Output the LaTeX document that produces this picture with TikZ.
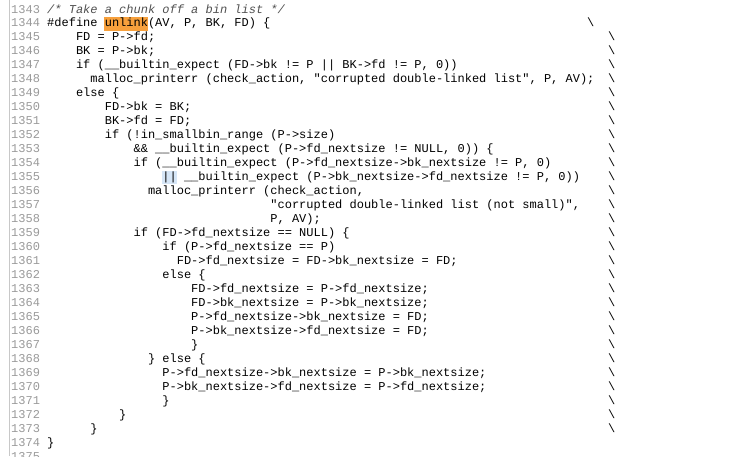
\documentclass[tikz,border=0pt]{standalone}
\usepackage{fontspec}
\setmonofont{Liberation Mono}
\begin{document}
\begin{tikzpicture}[x=1pt,y=-1pt,
  code/.style={anchor=base west,inner sep=0pt,font=\ttfamily\fontsize{12}{14}\selectfont,text=black},
  lnum/.style={code,text=lngray},
  cmt/.style={code,text=cmtgray,font=\ttfamily\itshape\fontsize{12}{14}\selectfont},
  bsl/.style={code}]
\definecolor{lngray}{HTML}{9A9A9A}
\definecolor{cmtgray}{HTML}{505050}
\definecolor{hlorange}{HTML}{F7A03C}
\definecolor{hlblue}{HTML}{D6E6F7}
\definecolor{bordergray}{HTML}{C8C8C8}
\useasboundingbox (0,0) rectangle (741,456);
\clip (0,0) rectangle (741,456);
\fill[white] (0,0) rectangle (741,456);
\draw[bordergray] (9.5,0) -- (9.5,456);
% highlights
\fill[hlorange] (104.2,16.5) rectangle (147.6,30.5);
\fill[hlblue] (161.5,170.5) rectangle (176.5,183.5);
% line numbers
\foreach \n [count=\i from 0] in {1343,...,1375}
  \node[lnum] (n\n) at (11,{13+13.97*\i}) {\n};
\def\L#1#2#3{\node[code] (c#1) at ({47+7.2*#2},{13+13.97*#1}) {#3};}
\node[cmt] (c0) at (47,13) {/* Take a chunk off a bin list */};
\L{1}{0}{\#define unlink(AV, P, BK, FD) \{}
\L{2}{4}{FD = P->fd;}
\L{3}{4}{BK = P->bk;}
\L{4}{4}{if (\_\_builtin\_expect (FD->bk != P || BK->fd != P, 0))}
\L{5}{6}{malloc\_printerr (check\_action, "corrupted double-linked list", P, AV);}
\L{6}{4}{else \{}
\L{7}{8}{FD->bk = BK;}
\L{8}{8}{BK->fd = FD;}
\L{9}{8}{if (!in\_smallbin\_range (P->size)}
\L{10}{12}{\&\& \_\_builtin\_expect (P->fd\_nextsize != NULL, 0)) \{}
\L{11}{12}{if (\_\_builtin\_expect (P->fd\_nextsize->bk\_nextsize != P, 0)}
\L{12}{16}{|| \_\_builtin\_expect (P->bk\_nextsize->fd\_nextsize != P, 0))}
\L{13}{14}{malloc\_printerr (check\_action,}
\L{14}{31}{"corrupted double-linked list (not small)",}
\L{15}{31}{P, AV);}
\L{16}{12}{if (FD->fd\_nextsize == NULL) \{}
\L{17}{16}{if (P->fd\_nextsize == P)}
\L{18}{18}{FD->fd\_nextsize = FD->bk\_nextsize = FD;}
\L{19}{16}{else \{}
\L{20}{20}{FD->fd\_nextsize = P->fd\_nextsize;}
\L{21}{20}{FD->bk\_nextsize = P->bk\_nextsize;}
\L{22}{20}{P->fd\_nextsize->bk\_nextsize = FD;}
\L{23}{20}{P->bk\_nextsize->fd\_nextsize = FD;}
\L{24}{20}{\}}
\L{25}{14}{\} else \{}
\L{26}{16}{P->fd\_nextsize->bk\_nextsize = P->bk\_nextsize;}
\L{27}{16}{P->bk\_nextsize->fd\_nextsize = P->fd\_nextsize;}
\L{28}{16}{\}}
\L{29}{10}{\}}
\L{30}{6}{\}}
\L{31}{0}{\}}
% backslashes
\node[bsl] (b1) at (587,{13+13.97}) {\textbackslash};
\foreach \i in {2,...,30}
  \node[bsl] (b\i) at (608,{13+13.97*\i}) {\textbackslash};
\end{tikzpicture}
\end{document}
